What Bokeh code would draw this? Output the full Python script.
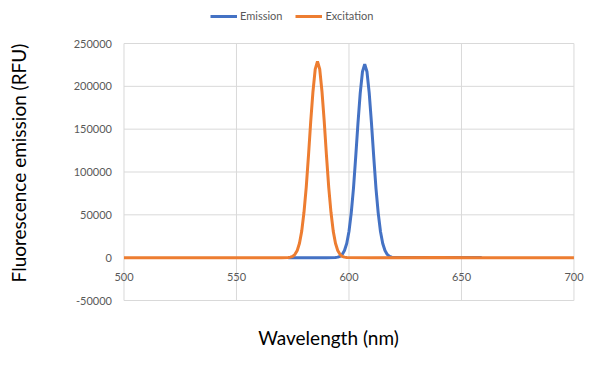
from bokeh.plotting import figure
from bokeh.models import Range1d, FixedTicker, Legend, LegendItem, ColumnDataSource
from bokeh.core.properties import value
from bokeh.embed import file_html
from bokeh.resources import INLINE

# ---- data ----
emission_wl = [573, 585, 590, 594, 595, 596, 597, 598, 599, 600, 601, 602, 603, 604, 605, 606,
               607, 608, 609, 610, 611, 612, 613, 614, 615, 616, 617, 618, 619, 620, 630, 645, 659]
emission_rfu = [0, 0, 0, 230, 640, 1600, 3800, 8300, 16600, 30600, 52000, 81000, 118000, 157000, 192000, 217000,
                226000, 217000, 192000, 157000, 118000, 81000, 52000, 30600, 16600, 8300, 3800, 1600, 640, 300, 300, 300, 200]

excitation_wl = [500, 550, 570, 573, 574, 575, 576, 577, 578, 579, 580, 581, 582, 583, 584, 585,
                 586, 587, 588, 589, 590, 591, 592, 593, 594, 595, 596, 597, 598, 599, 610, 640, 660, 700]
excitation_rfu = [0, 0, 0, 230, 650, 1600, 3900, 8400, 16800, 31000, 53000, 82000, 119000, 159000, 194000, 220000,
                  229000, 220000, 194000, 159000, 119000, 82000, 53000, 31000, 16800, 8400, 3900, 1600, 650, 230, 0, 300, 0, 0]

x_ticks = [500, 550, 600, 650, 700]
x_tick_labels = ["500", "550", "600", "650", "700"]
y_ticks = [-50000, 0, 50000, 100000, 150000, 200000, 250000]
y_tick_labels = ["-50000", "0", "50000", "100000", "150000", "200000", "250000"]

series_names = ["Emission", "Excitation"]
series_colors = ["#4472C4", "#ED7D31"]

FONT = "Lato"
GRAY = "#595959"
GRID = "#D9D9D9"

x_lo, x_hi = x_ticks[0], x_ticks[-1]
y_lo, y_hi = y_ticks[0], y_ticks[-1]

p = figure(width=600, height=367, output_backend="svg", toolbar_location=None,
           x_range=Range1d(470, 711.8), y_range=Range1d(-79180, 300200),
           min_border_left=56, min_border_right=0, min_border_top=0, min_border_bottom=42)
p.outline_line_color = None
p.xgrid.visible = False
p.ygrid.visible = False

# plot-area grid (spans only the axis extents, as in the reference)
p.segment(x0=x_ticks, y0=[y_lo] * len(x_ticks), x1=x_ticks, y1=[y_hi] * len(x_ticks),
          line_color=GRID, line_width=1)
p.segment(x0=[x_lo] * len(y_ticks), y0=y_ticks, x1=[x_hi] * len(y_ticks), y1=y_ticks,
          line_color=GRID, line_width=1)

# tick labels
ysrc = ColumnDataSource(dict(x=[x_lo] * len(y_ticks), y=y_ticks, t=y_tick_labels))
p.text(x="x", y="y", text="t", source=ysrc, text_align="right", text_baseline="middle",
       x_offset=-12, text_font=value(FONT), text_font_size="11px", text_color=GRAY)
xsrc = ColumnDataSource(dict(x=x_ticks, y=[0] * len(x_ticks), t=x_tick_labels))
p.text(x="x", y="y", text="t", source=xsrc, text_align="center", text_baseline="top",
       y_offset=15, text_font=value(FONT), text_font_size="11px", text_color=GRAY)

# axes: titles only
for ax in (p.xaxis, p.yaxis):
    ax.ticker = FixedTicker(ticks=[])
    ax.axis_line_color = None
    ax.major_tick_line_color = None
    ax.minor_tick_line_color = None
    ax.major_label_standoff = 0
    ax.axis_label_text_font = FONT
    ax.axis_label_text_font_size = "19px"
    ax.axis_label_text_font_style = "normal"
    ax.axis_label_text_color = "black"
p.yaxis.axis_label = "Fluorescence emission (RFU)"
p.yaxis.axis_label_standoff = 27
p.xaxis.axis_label = "Wavelength (nm)"
p.xaxis.axis_label_standoff = 0

r_em = p.line(emission_wl, emission_rfu, line_color=series_colors[0], line_width=3)
r_ex = p.line(excitation_wl, excitation_rfu, line_color=series_colors[1], line_width=3)

legend = Legend(items=[LegendItem(label=series_names[0], renderers=[r_em]),
                       LegendItem(label=series_names[1], renderers=[r_ex])],
                orientation="horizontal", location=(154, 303),
                label_text_font=FONT, label_text_font_size="11px", label_text_color=GRAY,
                glyph_width=27, glyph_height=10, label_standoff=3, spacing=13,
                padding=0, margin=0, border_line_color=None, background_fill_alpha=0)
p.add_layout(legend, "center")

open("out.html", "w").write(file_html(p, INLINE))
